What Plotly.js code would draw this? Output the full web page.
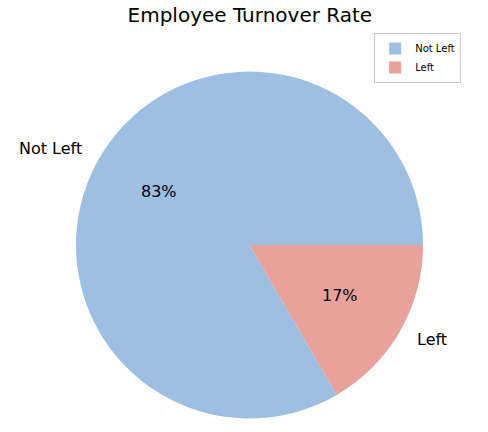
<!DOCTYPE html>
<html><head><meta charset="utf-8">
<script src="https://cdn.plot.ly/plotly-3.0.1.min.js"></script>
<style>html,body{margin:0;padding:0;background:#fff}#chart{width:488px;height:432px}</style>
</head><body><div id="chart"></div>
<script>
const categories = ["Not Left", "Left"];
const values = [10000, 1991];
const colors = ["#9cbfe2", "#e8a19b"];

const total = values.reduce((a, b) => a + b, 0);
const annotations = [];
let start = 0;
values.forEach((v, i) => {
  const mid = (start + v / 2) / total * 2 * Math.PI;
  start += v;
  const c = Math.cos(mid), s = Math.sin(mid);
  annotations.push({
    xref: "paper", yref: "paper",
    x: 0.5 + 0.5 * 1.1 * c, y: 0.5 + 0.5 * 1.1 * s, yshift: 1,
    text: categories[i], showarrow: false,
    xanchor: c > 0 ? "left" : "right", yanchor: "middle",
    font: {family: "DejaVu Sans", size: 16, color: "#000"}
  });
  annotations.push({
    xref: "paper", yref: "paper",
    x: 0.5 + 0.5 * 0.6 * c, y: 0.5 + 0.5 * 0.6 * s, yshift: 1.5,
    text: Math.round(v / total * 100) + "%", showarrow: false,
    xanchor: "center", yanchor: "middle",
    font: {family: "DejaVu Sans", size: 16, color: "#000"}
  });
});

// plotly: counterclockwise slices end at `rotation`; start first slice at 3 o'clock
const rotation = 90 - 360 * values[0] / total;

const trace = {
  type: "pie",
  labels: categories,
  values: values,
  marker: {colors: colors, line: {width: 0}},
  sort: false,
  direction: "counterclockwise",
  rotation: rotation,
  textinfo: "none",
  hoverinfo: "label+percent",
  domain: {x: [0, 1], y: [0, 1]}
};

const layout = {
  width: 488, height: 432,
  margin: {l: 75.5, r: 64.5, t: 71, b: 13, autoexpand: false},
  paper_bgcolor: "#fff",
  font: {family: "DejaVu Sans", color: "#000"},
  title: {text: "Employee Turnover Rate", x: 0.512, xref: "container", y: 0.965, yanchor: "middle", font: {family: "DejaVu Sans", size: 20, color: "#000"}},
  showlegend: true,
  legend: {x: 1.11, y: 1.109, xanchor: "right", yanchor: "top", bordercolor: "#cccccc", borderwidth: 1, bgcolor: "#fff", font: {family: "DejaVu Sans", size: 10}, tracegroupgap: 0, itemwidth: 30},
  annotations: annotations
};

Plotly.newPlot("chart", [trace], layout, {displayModeBar: false, staticPlot: true});
</script></body></html>
